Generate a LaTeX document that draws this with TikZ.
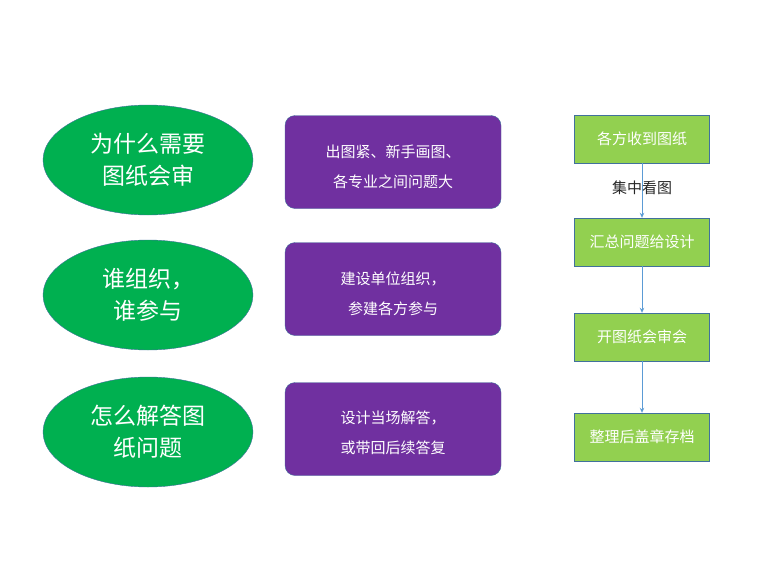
\documentclass[tikz,border=0pt]{standalone}
\usepackage{fontspec}
\newfontfamily\cjk{Noto Sans CJK SC}
\usetikzlibrary{shapes.geometric,arrows.meta}
\definecolor{askgreen}{HTML}{00B050}
\definecolor{notepurple}{HTML}{7030A0}
\definecolor{stepgreen}{HTML}{92D050}
\definecolor{rimblue}{HTML}{41719C}
\definecolor{flowblue}{HTML}{5B9BD5}
\tikzset{
  askell/.style={ellipse, draw=rimblue, fill=askgreen, minimum width=210pt, minimum height=110pt,
    inner sep=0pt, font=\cjk\fontsize{23}{32}\selectfont},
  notebox/.style={rectangle, rounded corners=10pt, draw=rimblue, fill=notepurple, minimum width=216pt,
    minimum height=93pt},
  notetext/.style={font=\cjk\fontsize{15}{30}\selectfont},
  stepbox/.style={rectangle, draw=rimblue, fill=stepgreen, minimum width=135pt, minimum height=48pt,
    font=\cjk\fontsize{15}{18}\selectfont},
  flow/.style={draw=flowblue, line width=0.9pt, -{Stealth[length=5pt,width=4.5pt]}}
}
\begin{document}
\begin{tikzpicture}[x=1pt, y=-1pt, every node/.style={text=white, align=center}]
	\useasboundingbox (0,0) rectangle (760,570);
	% Questions
	\node[askell] (q1) at (148,160) {为什么需要\\图纸会审};
	\node[askell] (q2) at (148,295) {谁组织，\\谁参与};
	\node[askell] (q3) at (148,432) {怎么解答图\\纸问题};

	% Answers
	\node[notebox] (a1) at (393,162) {};
	\node[notetext] (t1) at ([yshift=-5pt]a1.center) {出图紧、新手画图、\\各专业之间问题大};
	\node[notebox] (a2) at (393,289) {};
	\node[notetext] (t2) at ([yshift=-5pt]a2.center) {建设单位组织，\\参建各方参与};
	\node[notebox] (a3) at (393,429) {};
	\node[notetext] (t3) at ([yshift=-4pt]a3.center) {设计当场解答，\\或带回后续答复};

	% Steps
	\node[stepbox] (s1) at (642,139) {各方收到图纸};
	\node[stepbox] (s2) at (642,242) {汇总问题给设计};
	\node[stepbox] (s3) at (642,337) {开图纸会审会};
	\node[stepbox] (s4) at (642,437) {整理后盖章存档};

	% Links
	\draw[flow] (s1) -- node[pos=0.45, text=black!85, font=\cjk\fontsize{15}{18}\selectfont] {集中看图} (s2);
	\draw[flow] (s2) -- (s3);
	\draw[flow] (s3) -- (s4);
\end{tikzpicture}
\end{document}
